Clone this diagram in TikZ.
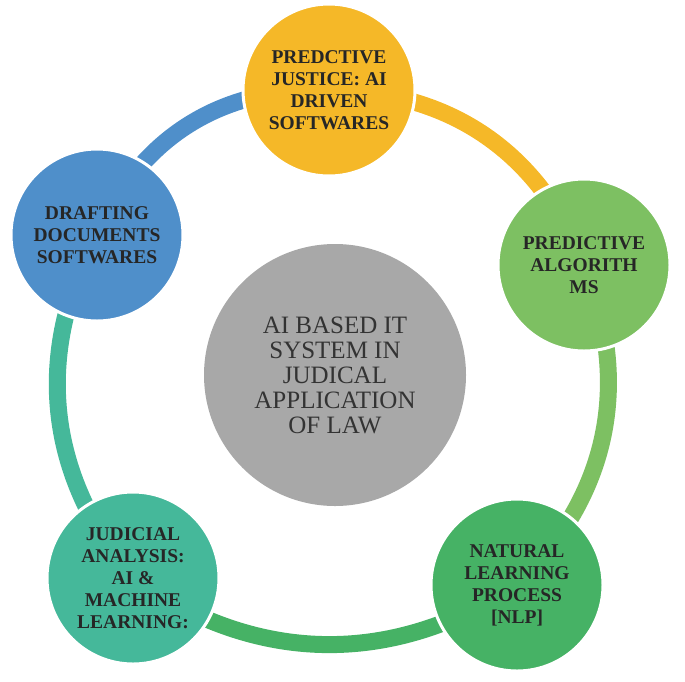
\documentclass[tikz,border=0pt]{standalone}
\usepackage{fontspec}
\setmainfont{Liberation Serif}
\definecolor{cTop}{HTML}{F5B828}
\definecolor{cRight}{HTML}{7DC062}
\definecolor{cBR}{HTML}{46B265}
\definecolor{cBL}{HTML}{45B89A}
\definecolor{cLeft}{HTML}{4F8FCA}
\definecolor{cMid}{HTML}{A8A8A8}
\begin{document}
\begin{tikzpicture}[x=1pt,y=-1pt,
  outer/.style={circle,minimum size=172pt,draw=white,line width=3pt,inner sep=0pt,
    align=center,font=\fontsize{19.5}{22}\selectfont\bfseries,text=black!85},
  seg/.style={line width=17pt,bend left=34}]
\useasboundingbox (0,0) rectangle (685,681);
\coordinate (t) at (329,90);
\coordinate (r) at (584,265);
\coordinate (br) at (517,585);
\coordinate (bl) at (133,578);
\coordinate (l) at (97,235);
\draw[seg,cTop] (t) to (r);
\draw[seg,cRight] (r) to (br);
\draw[seg,cBR] (br) to (bl);
\draw[seg,cBL] (bl) to (l);
\draw[seg,cLeft] (l) to (t);
\node[outer,fill=cTop] (nt) at (t) {PREDCTIVE\\JUSTICE: AI\\DRIVEN\\SOFTWARES};
\node[outer,fill=cRight] (nr) at (r) {PREDICTIVE\\ALGORITH\\MS};
\node[outer,fill=cBR] (nbr) at (br) {NATURAL\\LEARNING\\PROCESS\\{[NLP]}};
\node[outer,fill=cBL] (nbl) at (bl) {JUDICIAL\\ANALYSIS:\\AI \&\\MACHINE\\LEARNING:};
\node[outer,fill=cLeft] (nl) at (l) {DRAFTING\\DOCUMENTS\\SOFTWARES};
\node[circle,fill=cMid,minimum size=262pt,inner sep=0pt,align=center,
  font=\fontsize{25}{25}\selectfont,text=black!80] (c) at (335,375)
  {AI BASED IT\\SYSTEM IN\\JUDICAL\\APPLICATION\\OF LAW};
\end{tikzpicture}
\end{document}
